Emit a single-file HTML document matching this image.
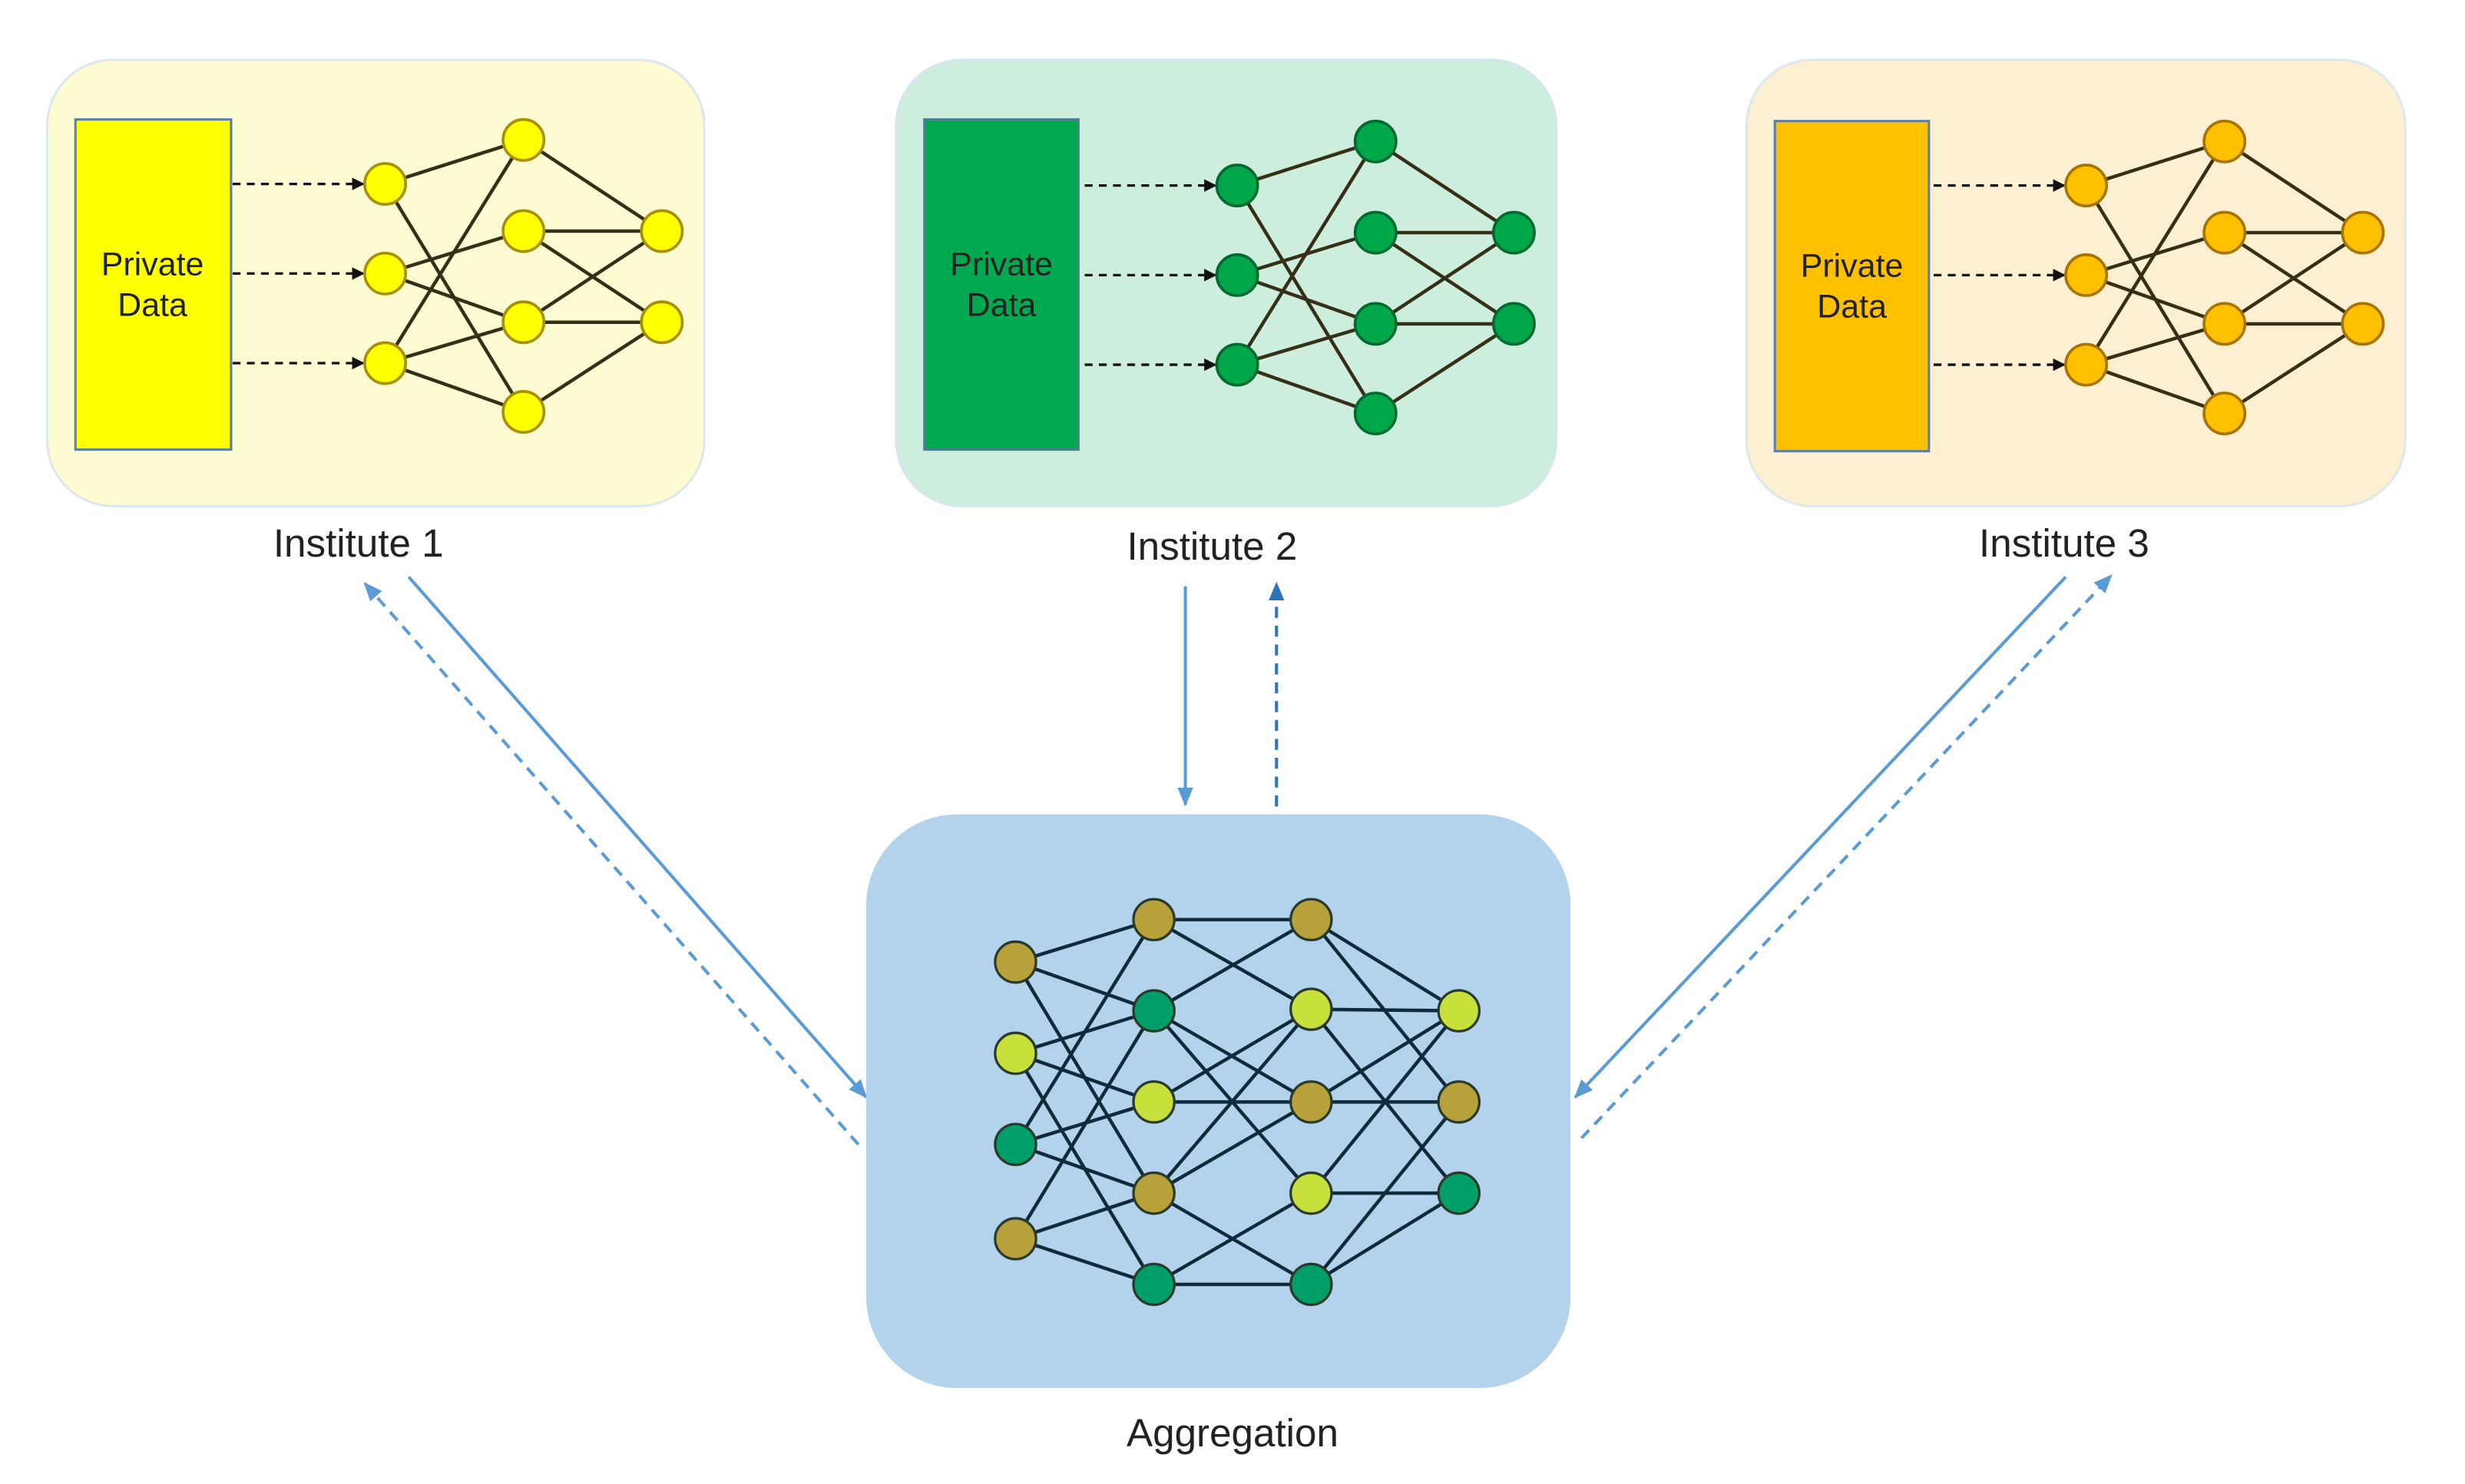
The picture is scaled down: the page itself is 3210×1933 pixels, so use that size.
<!DOCTYPE html>
<html><head><meta charset="utf-8"><style>
html,body{margin:0;padding:0;background:#fff;}
svg{display:block;}
text{font-family:"Liberation Sans",Arial,sans-serif;}
</style></head><body>
<svg width="3210" height="1933" viewBox="0 0 1568 944" preserveAspectRatio="none" xmlns="http://www.w3.org/2000/svg">
<defs>
<marker id="ab" markerWidth="8" markerHeight="8" refX="7" refY="4" orient="auto" markerUnits="userSpaceOnUse"><path d="M0,0 L8,4 L0,8 z" fill="#111"/></marker>
<marker id="bl" markerWidth="12" markerHeight="10" refX="11" refY="5" orient="auto" markerUnits="userSpaceOnUse"><path d="M0,0 L12,5 L0,10 z" fill="#5b9bd5"/></marker>
<marker id="bd" markerWidth="12" markerHeight="10" refX="11" refY="5" orient="auto" markerUnits="userSpaceOnUse"><path d="M0,0 L12,5 L0,10 z" fill="#2e75b6"/></marker>
<g id="net">
<g stroke="#352f18" stroke-width="2.2" fill="none">
<line x1="245" y1="117" x2="333" y2="89"/><line x1="245" y1="117" x2="333" y2="262"/>
<line x1="245" y1="174" x2="333" y2="147"/><line x1="245" y1="174" x2="333" y2="205"/>
<line x1="245" y1="231" x2="333" y2="89"/><line x1="245" y1="231" x2="333" y2="205"/><line x1="245" y1="231" x2="333" y2="262"/>
<line x1="333" y1="89" x2="421" y2="147"/><line x1="333" y1="147" x2="421" y2="147"/><line x1="333" y1="147" x2="421" y2="205"/>
<line x1="333" y1="205" x2="421" y2="147"/><line x1="333" y1="205" x2="421" y2="205"/><line x1="333" y1="262" x2="421" y2="205"/>
</g>
<g stroke="#111" stroke-width="1.6" stroke-dasharray="5,4" marker-end="url(#ab)">
<line x1="148" y1="117" x2="231" y2="117"/><line x1="148" y1="174" x2="231" y2="174"/><line x1="148" y1="231" x2="231" y2="231"/>
</g>
</g>
</defs>

<rect x="30" y="38" width="418" height="284" rx="42" fill="#fdfbd2" stroke="#dde8ee" stroke-width="1.5"/>
<rect x="570" y="38" width="420" height="284" rx="42" fill="#cdeedc" stroke="#d6e6ee" stroke-width="1.5"/>
<rect x="1111" y="38" width="419" height="284" rx="42" fill="#fdf0d2" stroke="#dde8ee" stroke-width="1.5"/>

<rect x="48" y="76" width="99" height="210" fill="#ffff00" stroke="#5a7fa8" stroke-width="1.5"/>
<rect x="588" y="76" width="98" height="210" fill="#00a850" stroke="#4a7f90" stroke-width="1.5"/>
<rect x="1129" y="77" width="98" height="210" fill="#ffc000" stroke="#5a7fa8" stroke-width="1.5"/>
<g font-size="21" fill="#222" text-anchor="middle">
<text x="97" y="175">Private</text><text x="97" y="201">Data</text>
<text x="637" y="175">Private</text><text x="637" y="201">Data</text>
<text x="1178" y="176">Private</text><text x="1178" y="202">Data</text>
</g>

<use href="#net"/>
<use href="#net" x="542" y="1"/>
<use href="#net" x="1082" y="1"/>

<g stroke-width="1.8">
<g fill="#ffff00" stroke="#a89000">
<circle cx="245" cy="117" r="13"/><circle cx="245" cy="174" r="13"/><circle cx="245" cy="231" r="13"/>
<circle cx="333" cy="89" r="13"/><circle cx="333" cy="147" r="13"/><circle cx="333" cy="205" r="13"/><circle cx="333" cy="262" r="13"/>
<circle cx="421" cy="147" r="13"/><circle cx="421" cy="205" r="13"/>
</g>
<g fill="#00a84a" stroke="#006a30">
<circle cx="787" cy="118" r="13"/><circle cx="787" cy="175" r="13"/><circle cx="787" cy="232" r="13"/>
<circle cx="875" cy="90" r="13"/><circle cx="875" cy="148" r="13"/><circle cx="875" cy="206" r="13"/><circle cx="875" cy="263" r="13"/>
<circle cx="963" cy="148" r="13"/><circle cx="963" cy="206" r="13"/>
</g>
<g fill="#ffc000" stroke="#a87400">
<circle cx="1327" cy="118" r="13"/><circle cx="1327" cy="175" r="13"/><circle cx="1327" cy="232" r="13"/>
<circle cx="1415" cy="90" r="13"/><circle cx="1415" cy="148" r="13"/><circle cx="1415" cy="206" r="13"/><circle cx="1415" cy="263" r="13"/>
<circle cx="1503" cy="148" r="13"/><circle cx="1503" cy="206" r="13"/>
</g>
</g>

<g font-size="25" fill="#222" text-anchor="middle">
<text x="228" y="354">Institute 1</text>
<text x="771" y="356">Institute 2</text>
<text x="1313" y="354">Institute 3</text>
<text x="784" y="920">Aggregation</text>
</g>

<line x1="260" y1="367" x2="551" y2="698" stroke="#5b9bd5" stroke-width="2" marker-end="url(#bl)"/>
<line x1="546" y1="728" x2="232" y2="371" stroke="#5b9bd5" stroke-width="2" stroke-dasharray="7,5" marker-end="url(#bl)"/>
<line x1="754" y1="373" x2="754" y2="512" stroke="#5b9bd5" stroke-width="2" marker-end="url(#bl)"/>
<line x1="812" y1="513" x2="812" y2="371" stroke="#2e75b6" stroke-width="2" stroke-dasharray="7,5" marker-end="url(#bd)"/>
<line x1="1314" y1="367" x2="1002" y2="698" stroke="#5b9bd5" stroke-width="2" marker-end="url(#bl)"/>
<line x1="1006" y1="724" x2="1343" y2="366" stroke="#5b9bd5" stroke-width="2" stroke-dasharray="7,5" marker-end="url(#bl)"/>

<rect x="551" y="518" width="448" height="365" rx="58" fill="#b3d3ec"/>
<g stroke="#0f2a3a" stroke-width="2.2">
<line x1="646" y1="612" x2="734" y2="585"/><line x1="646" y1="612" x2="734" y2="643"/><line x1="646" y1="612" x2="734" y2="759"/>
<line x1="646" y1="670" x2="734" y2="643"/><line x1="646" y1="670" x2="734" y2="701"/><line x1="646" y1="670" x2="734" y2="817"/>
<line x1="646" y1="728" x2="734" y2="585"/><line x1="646" y1="728" x2="734" y2="701"/><line x1="646" y1="728" x2="734" y2="759"/>
<line x1="646" y1="788" x2="734" y2="643"/><line x1="646" y1="788" x2="734" y2="759"/><line x1="646" y1="788" x2="734" y2="817"/>
<line x1="734" y1="585" x2="834" y2="585"/><line x1="734" y1="585" x2="834" y2="642"/>
<line x1="734" y1="643" x2="834" y2="585"/><line x1="734" y1="643" x2="834" y2="701"/><line x1="734" y1="643" x2="834" y2="759"/>
<line x1="734" y1="701" x2="834" y2="642"/><line x1="734" y1="701" x2="834" y2="701"/>
<line x1="734" y1="759" x2="834" y2="642"/><line x1="734" y1="759" x2="834" y2="701"/><line x1="734" y1="759" x2="834" y2="817"/>
<line x1="734" y1="817" x2="834" y2="759"/><line x1="734" y1="817" x2="834" y2="817"/>
<line x1="834" y1="585" x2="928" y2="643"/><line x1="834" y1="585" x2="928" y2="701"/>
<line x1="834" y1="642" x2="928" y2="643"/><line x1="834" y1="642" x2="928" y2="759"/>
<line x1="834" y1="701" x2="928" y2="643"/><line x1="834" y1="701" x2="928" y2="701"/>
<line x1="834" y1="759" x2="928" y2="643"/><line x1="834" y1="759" x2="928" y2="759"/>
<line x1="834" y1="817" x2="928" y2="701"/><line x1="834" y1="817" x2="928" y2="759"/>
</g>
<g stroke="#2a3a2a" stroke-width="1.6">
<g fill="#b8a03a"><circle cx="646" cy="612" r="13"/><circle cx="646" cy="788" r="13"/><circle cx="734" cy="585" r="13"/><circle cx="734" cy="759" r="13"/><circle cx="834" cy="585" r="13"/><circle cx="834" cy="701" r="13"/><circle cx="928" cy="701" r="13"/></g>
<g fill="#c8e03c"><circle cx="646" cy="670" r="13"/><circle cx="734" cy="701" r="13"/><circle cx="834" cy="642" r="13"/><circle cx="834" cy="759" r="13"/><circle cx="928" cy="643" r="13"/></g>
<g fill="#009e68"><circle cx="646" cy="728" r="13"/><circle cx="734" cy="643" r="13"/><circle cx="734" cy="817" r="13"/><circle cx="834" cy="817" r="13"/><circle cx="928" cy="759" r="13"/></g>
</g>
</svg>
</body></html>
